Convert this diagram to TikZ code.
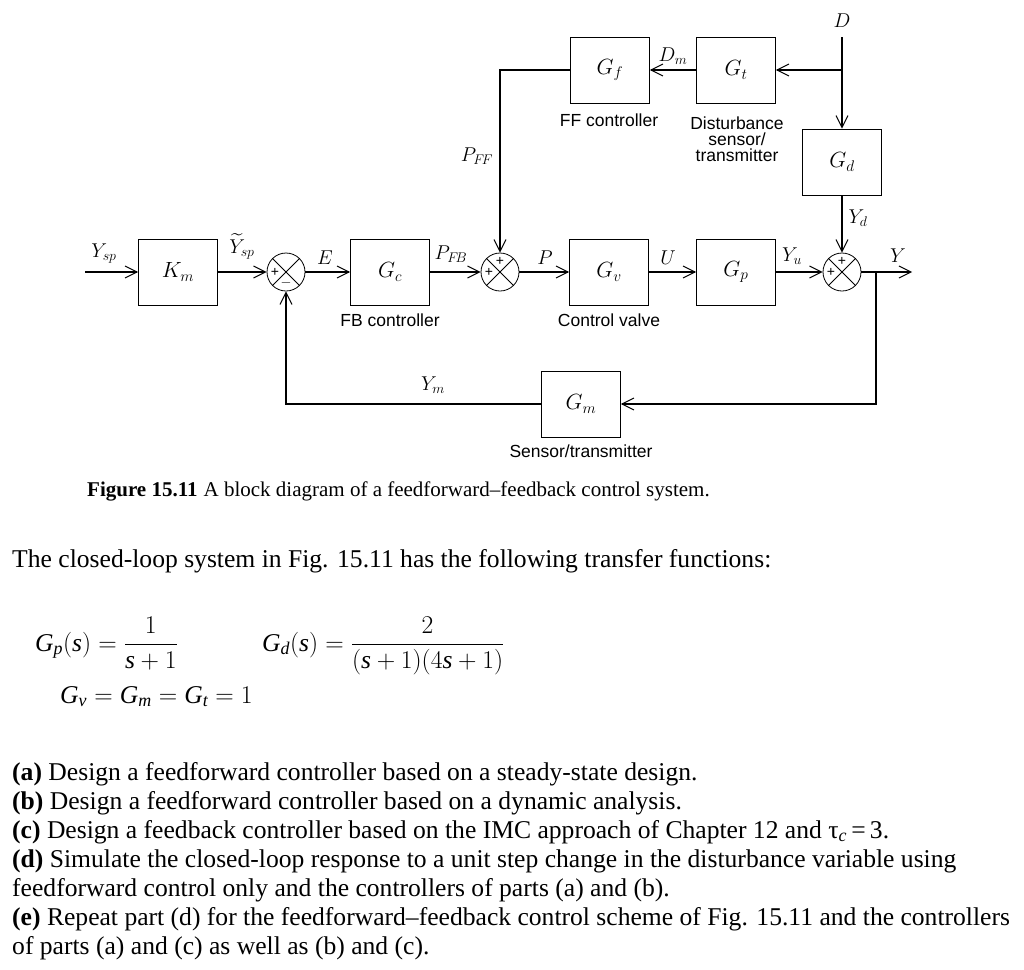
\RequirePackage{fix-cm}
\documentclass[tikz,border=0pt]{standalone}
\usepackage{amsmath}
\usepackage{fontspec}
\setmainfont{Liberation Serif}
\setsansfont{Liberation Sans}
\usetikzlibrary{arrows.meta,positioning}

\tikzset{
  blk/.style={draw, line width=0.7pt, minimum width=79pt, minimum height=66pt, inner sep=0pt, font=\fontsize{22}{26}\selectfont},
  sumj/.style={draw, circle, line width=0.8pt, minimum size=38pt, inner sep=0pt},
  sig/.style={line width=2.8pt, -{Straight Barb[length=12pt,width=12pt,line width=1pt]}},
  lbl/.style={inner sep=0pt, font=\fontsize{20}{24}\selectfont},
  blkcap/.style={font=\sffamily\fontsize{17.5}{20}\selectfont, align=center},
  sgn/.style={font=\sffamily\fontsize{14}{14}\selectfont, inner sep=0pt},
  txt/.style={anchor=base west, inner sep=0pt, font=\fontsize{25.6}{29}\selectfont}
}

\begin{document}
\begin{tikzpicture}[x=1pt, y=-1pt]
    \useasboundingbox (0,0) rectangle (1024,969);

    % blocks
    \node[blk] (Km) at (178,272) {$K_m$};
    \node[blk] (Gc) at (390,272) {$G_c$};
    \node[blk] (Gv) at (609,272) {$G_v$};
    \node[blk] (Gp) at (736,272) {$G_p$};
    \node[blk] (Gf) at (610,70) {$G_f$};
    \node[blk] (Gt) at (736,70) {$G_t$};
    \node[blk] (Gd) at (842,162) {$G_d$};
    \node[blk] (Gm) at (581,404) {$G_m$};

    % summing junctions
    \node[sumj] (s1) at (286,272) {};
    \node[sumj] (s2) at (500,272) {};
    \node[sumj] (s3) at (842,272) {};
    \foreach \s in {s1,s2,s3} {
        \draw[line width=0.8pt] (\s.north east) -- (\s.south west);
        \draw[line width=0.8pt] (\s.north west) -- (\s.south east);
    }
    \node[sgn] (p1) at ([xshift=-11pt]s1.center) {+};
    \node[sgn] (m1) at ([yshift=-11pt]s1.center) {$-$};
    \node[sgn] (p2) at ([xshift=-11pt]s2.center) {+};
    \node[sgn] (q2) at ([yshift=11pt]s2.center) {+};
    \node[sgn] (p3) at ([xshift=-11pt]s3.center) {+};
    \node[sgn] (q3) at ([yshift=11pt]s3.center) {+};

    % free ends and branch points
    \coordinate (in) at (85,272);
    \coordinate (out) at (912,272);
    \coordinate (br) at (876,272);
    \coordinate (D) at (842,37);
    \coordinate (dbr) at (842,70);

    % signals
    \draw[sig] (in) -- (Km);
    \draw[sig] (Km) -- (s1);
    \draw[sig] (s1) -- (Gc);
    \draw[sig] (Gc) -- (s2);
    \draw[sig] (s2) -- (Gv);
    \draw[sig] (Gv) -- (Gp);
    \draw[sig] (Gp) -- (s3);
    \draw[sig] (s3) -- (out);
    \draw[sig] (br) |- (Gm);
    \draw[sig] (Gm) -| (s1);
    \draw[sig] (D) -- (Gd);
    \draw[sig] (dbr) -- (Gt);
    \draw[sig] (Gt) -- (Gf);
    \draw[sig] (Gf) -| (s2);
    \draw[sig] (Gd) -- (s3);

    % signal labels
    \node[lbl] (lYsp) at (104,254) {$Y_{sp}$};
    \node[lbl] (lYspt) at (242,246) {$\widetilde{Y}_{sp}$};
    \node[lbl] (lE) at (325,258) {$E$};
    \node[lbl] (lPFB) at (451,254) {$P_{F\!B}$};
    \node[lbl] (lP) at (545,258) {$P$};
    \node[lbl] (lU) at (668,258) {$U$};
    \node[lbl] (lYu) at (792,256) {$Y_u$};
    \node[lbl] (lY) at (898,256) {$Y$};
    \node[lbl] (lYd) at (858,218) {$Y_d$};
    \node[lbl] (lPFF) at (477,156) {$P_{F\!F}$};
    \node[lbl] (lDm) at (673,56) {$D_m$};
    \node[lbl] (lD) at (842,21) {$D$};
    \node[lbl] (lYm) at (433,385) {$Y_m$};

    % block captions
    \node[blkcap] (cGf) at (609,120) {FF controller};
    \node[blkcap] (cGt) at (737,139) {Disturbance\\[-4pt]sensor/\\[-4pt]transmitter};
    \node[blkcap] (cGc) at (390,320) {FB controller};
    \node[blkcap] (cGv) at (609,320) {Control valve};
    \node[blkcap] (cGm) at (581,451) {Sensor/transmitter};

    % figure caption and text
    \node[anchor=base west, inner sep=0pt, font=\fontsize{21}{24}\selectfont] (fig) at (87,496)
        {\textbf{Figure 15.11}\hspace{6pt}A block diagram of a feedforward--feedback control system.};
    \node[txt] (intro) at (12,567) {The closed-loop system in Fig. 15.11 has the following transfer functions:};

    \node[txt] (eqGp) at (35,651)
        {$\textit{G}_{\textit{p}}(\textit{s}) = \dfrac{1}{\textit{s}+1}$};
    \node[txt] (eqGd) at (262,651)
        {$\textit{G}_{\textit{d}}(\textit{s}) = \dfrac{2}{(\textit{s}+1)(4\textit{s}+1)}$};
    \node[txt] (eqG) at (60,703)
        {$\textit{G}_{\textit{v}} = \textit{G}_{\textit{m}} = \textit{G}_{\textit{t}} = 1$};

    \node[txt] (pa) at (12,780) {\textbf{(a)} Design a feedforward controller based on a steady-state design.};
    \node[txt] (pb) at (12,809) {\textbf{(b)} Design a feedforward controller based on a dynamic analysis.};
    \node[txt] (pc) at (12,838) {\textbf{(c)} Design a feedback controller based on the IMC approach of Chapter 12 and τ\textsubscript{\textit{c}}\,=\,3.};
    \node[txt] (pd) at (12,867) {\textbf{(d)} Simulate the closed-loop response to a unit step change in the disturbance variable using};
    \node[txt] (pd2) at (12,896) {feedforward control only and the controllers of parts (a) and (b).};
    \node[txt] (pe) at (12,925) {\textbf{(e)} Repeat part (d) for the feedforward--feedback control scheme of Fig. 15.11 and the controllers};
    \node[txt] (pe2) at (12,954) {of parts (a) and (c) as well as (b) and (c).};

\end{tikzpicture}
\end{document}
